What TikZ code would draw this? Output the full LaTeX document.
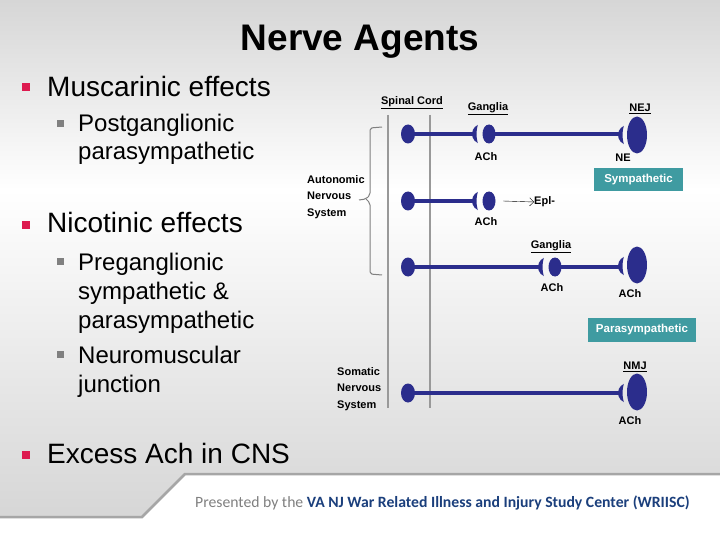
\documentclass[tikz,border=0pt]{standalone}
\usepackage{fontspec}
\setmainfont{Liberation Sans}
\newfontfamily\footfont{Carlito}
\usetikzlibrary{arrows.meta, positioning, shapes.geometric}
\definecolor{nervenavy}{HTML}{2B2D8C}
\definecolor{boxteal}{HTML}{3F9BA1}
\definecolor{bulletred}{HTML}{DD1A4F}
\definecolor{footblue}{HTML}{1B3F7C}
\definecolor{slidegray}{HTML}{D6D6D6}

\tikzset{
    soma/.style={ellipse, fill=nervenavy, inner sep=0pt, minimum width=14pt, minimum height=19pt},
    effector/.style={ellipse, fill=nervenavy, inner sep=0pt, minimum width=20pt, minimum height=37pt},
    axon/.style={nervenavy, line width=4.5pt},
    synapse/.pic={
        \fill[nervenavy] (115:10) arc[start angle=115, end angle=245, radius=10]
            arc[start angle=196, end angle=164, radius=32.9] -- cycle;
    },
    lbl/.style={font=\fontsize{11}{13}\selectfont\bfseries, inner sep=0pt},
    divbox/.style={fill=boxteal, text=white, font=\fontsize{11.5}{13}\selectfont\bfseries, inner sep=0pt},
    bigtext/.style={anchor=base west, inner sep=0pt, font=\fontsize{28}{32}\selectfont},
    subtext/.style={anchor=base west, inner sep=0pt, font=\fontsize{24}{28}\selectfont},
}

\begin{document}
\begin{tikzpicture}[x=1pt, y=-1pt]
    \useasboundingbox (0, 0) rectangle (720, 540);

    % slide background
    \shade[top color=slidegray, bottom color=white] (0, 0) rectangle (720, 190);
    \shade[top color=white, bottom color=slidegray] (0, 190) rectangle (720, 518);
    \fill[white] (185, 474) -- (720, 474) -- (720, 540) -- (0, 540) -- (0, 518) -- (142, 518) -- cycle;
    \draw[gray!70, line width=2.5pt] (0, 517) -- (142, 517) -- (185, 474) -- (720, 474);
    \node[anchor=base west, inner sep=0pt, font=\footfont\fontsize{15.7}{18}\selectfont] (footer) at (195, 507)
        {\textcolor{gray}{Presented by the} \textcolor{footblue}{\bfseries VA NJ War Related Illness and Injury Study Center (WRIISC)}};

    % title
    \node[font=\fontsize{37}{40}\selectfont\bfseries, inner sep=0pt] (title) at (360, 42) {Nerve Agents};

    % bullet list
    \fill[bulletred] (22, 83) rectangle (30, 91);
    \node[bigtext] (musc) at (47, 97) {Muscarinic effects};
    \fill[gray] (57, 120) rectangle (64, 127);
    \node[subtext] (post1) at (78, 132) {Postganglionic};
    \node[subtext] (post2) at (78, 160) {parasympathetic};
    \fill[bulletred] (22, 221) rectangle (30, 229);
    \node[bigtext] (nico) at (47, 233) {Nicotinic effects};
    \fill[gray] (57, 258) rectangle (64, 265);
    \node[subtext] (pre1) at (78, 270) {Preganglionic};
    \node[subtext] (pre2) at (78, 299) {sympathetic \&};
    \node[subtext] (pre3) at (78, 328) {parasympathetic};
    \fill[gray] (57, 351) rectangle (64, 358);
    \node[subtext] (nmj1) at (78, 363) {Neuromuscular};
    \node[subtext] (nmj2) at (78, 392) {junction};
    \fill[bulletred] (22, 451) rectangle (30, 459);
    \node[bigtext] (cns) at (47, 463) {Excess Ach in CNS};

    % spinal cord
    \draw[gray!80, line width=1.1pt] (388, 115) -- (388, 408);
    \draw[gray!80, line width=1.1pt] (430, 115) -- (430, 408);
    \node[lbl] (cord) at (412, 103) {\underline{Spinal Cord}};

    % brace round the autonomic rows
    \draw[gray, line width=1pt, rounded corners=2pt]
        (382, 127) -- (370, 128) -- (370, 195) -- (366, 199) -- (359, 200);
    \draw[gray, line width=1pt, rounded corners=2pt]
        (366, 199) -- (370, 203) -- (370, 274) -- (382, 275);
    \node[lbl, align=left, anchor=west, font=\fontsize{11}{16.5}\selectfont\bfseries] (ans) at (307, 197)
        {Autonomic\\Nervous\\System};
    \node[lbl, align=left, anchor=west, font=\fontsize{11}{16.5}\selectfont\bfseries] (sns) at (337, 389)
        {Somatic\\Nervous\\System};

    % sympathetic row
    \node[soma] (s1) at (408, 134) {};
    \node[soma, minimum width=13pt] (g1) at (489, 134) {};
    \node[effector] (e1) at (637, 135) {};
    \draw[axon] (s1.center) -- (476, 134);
    \pic at (482, 134) {synapse};
    \draw[axon] (g1.center) -- (622, 134);
    \pic at (628, 135) {synapse};
    \node[lbl] (gang1) at (488, 109) {\underline{Ganglia}};
    \node[lbl] (nej) at (640, 109) {\underline{NEJ}};
    \node[lbl] (ach1) at (486, 157) {ACh};
    \node[lbl] (ne) at (623, 158) {NE};
    \node[divbox, minimum width=89pt, minimum height=23pt] (symp) at (638.5, 180) {Sympathetic};

    % adrenal row
    \node[soma] (s2) at (408, 201) {};
    \node[soma, minimum width=13pt] (g2) at (489, 201) {};
    \draw[axon] (s2.center) -- (476, 201);
    \pic at (482, 201) {synapse};
    \node[lbl, anchor=west] (epi) at (534, 202) {Epl-};
    \draw[-{Straight Barb[length=4pt]}, thin] (503, 201) -- (epi.west);
    \node[lbl] (ach2) at (486, 222) {ACh};

    % parasympathetic row
    \node[soma] (s3) at (408, 267) {};
    \node[soma, minimum width=13pt] (g3) at (555, 267) {};
    \node[effector] (e3) at (637, 265) {};
    \draw[axon] (s3.center) -- (542, 267);
    \pic at (548, 267) {synapse};
    \draw[axon] (g3.center) -- (622, 267);
    \pic at (628, 266) {synapse};
    \node[lbl] (gang3) at (551, 247) {\underline{Ganglia}};
    \node[lbl] (ach3) at (552, 288) {ACh};
    \node[lbl] (ach4) at (630, 294) {ACh};
    \node[divbox, minimum width=108pt, minimum height=24pt] (para) at (642, 330) {Parasympathetic};

    % somatic row
    \node[soma] (s4) at (408, 393) {};
    \node[effector] (e4) at (637, 392) {};
    \draw[axon] (s4.center) -- (622, 393);
    \pic at (628, 393) {synapse};
    \node[lbl] (nmj) at (635, 367) {\underline{NMJ}};
    \node[lbl] (ach5) at (630, 421) {ACh};
\end{tikzpicture}
\end{document}
